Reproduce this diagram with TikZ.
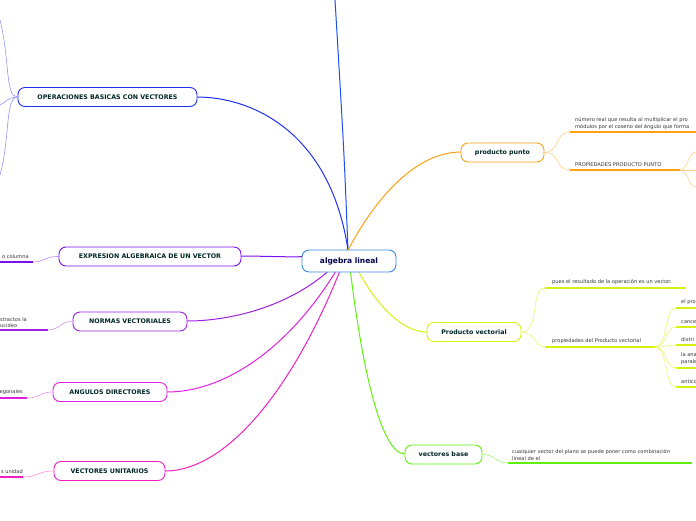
\documentclass[tikz,border=0pt]{standalone}
\usepackage{fontspec}
\setmainfont{DejaVu Sans}
\begin{document}
\begin{tikzpicture}[x=1pt,y=-1pt,
 mainbox/.style={draw=#1,line width=0.9pt,rounded corners=7pt,fill=white,font=\fontsize{6.3}{7}\selectfont\bfseries,text=black!70!teal,inner sep=0pt,minimum height=19pt},
 sub/.style={font=\fontsize{5.1}{6.3}\selectfont,text=black!80,anchor=south west,inner sep=0pt,align=left},
 ul/.style={draw=#1,line width=1.1pt},
 br/.style={draw=#1,line width=0.6pt}]
\useasboundingbox (0,0) rectangle (696,520);
\definecolor{cblue}{HTML}{2030F0}
\definecolor{cpur}{HTML}{7A10F0}
\definecolor{cvio}{HTML}{A020E0}
\definecolor{cmag}{HTML}{E020E0}
\definecolor{cpink}{HTML}{F020C0}
\definecolor{corange}{HTML}{FFA010}
\definecolor{cyel}{HTML}{D8F010}
\definecolor{cgreen}{HTML}{60F010}
\definecolor{ccen}{HTML}{3A8AE0}
% center
\coordinate (c) at (348,250);
\coordinate (top) at (335,0);
\draw[cblue!85!cyan,line width=1pt] (c) .. controls (344,150) .. (top);
\draw[cblue,line width=1pt] (c) .. controls (330,130) and (250,97) .. (197,97);
\draw[cpur,line width=1pt] (c) .. controls (320,260) and (280,256) .. (241,256);
\draw[cvio,line width=1pt] (c) .. controls (310,300) and (240,321) .. (187,321);
\draw[cmag,line width=1pt] (c) .. controls (300,340) and (230,392) .. (167,392);
\draw[cpink,line width=1pt] (c) .. controls (300,380) and (230,471) .. (165,471);
\draw[corange,line width=1pt] (c) .. controls (380,190) and (420,152) .. (461,152);
\draw[cyel,line width=1pt] (c) .. controls (370,300) and (400,332) .. (427,332);
\draw[cgreen,line width=1pt] (c) .. controls (360,360) and (380,454) .. (405,454);
\node[mainbox=ccen,minimum width=94pt,font=\fontsize{7.5}{8}\selectfont\bfseries,minimum height=22pt,text=black!70!blue] (al) at (349,261) {algebra lineal};
\node[mainbox=cblue,minimum width=179pt] (op) at (107.5,97) {OPERACIONES BASICAS CON VECTORES};
\node[mainbox=cpur,minimum width=182pt] (ex) at (150,256.5) {EXPRESION ALGEBRAICA DE UN VECTOR};
\node[mainbox=cvio,minimum width=114pt] (no) at (130,321.5) {NORMAS VECTORIALES};
\node[mainbox=cmag,minimum width=114pt] (an) at (110,392) {ANGULOS DIRECTORES};
\node[mainbox=cpink,minimum width=111pt] (vu) at (109.5,471) {VECTORES UNITARIOS};
\node[mainbox=corange,minimum width=83pt] (pp) at (502.5,152.5) {producto punto};
\node[mainbox=cyel,minimum width=94pt] (pv) at (474,332) {Producto vectorial};
\node[mainbox=cgreen,minimum width=77pt] (vb) at (443.5,454.5) {vectores base};
% operaciones branches
\draw[br=cblue!50] (op.west) .. controls (5,97) and (10,60) .. (0,20);
\draw[br=cblue!50] (op.west) .. controls (8,97) and (5,103) .. (0,105);
\draw[br=cblue!50] (op.west) .. controls (5,97) and (10,140) .. (0,175);
% left subtopics
\draw[br=cpur!50] (ex.west) .. controls (45,256) and (45,262) .. (33,262);
\draw[ul=cpur] (33,262) -- (0,262);
\node[sub,anchor=south east] at (29,259) {o columna};
\draw[br=cvio!50] (no.west) .. controls (60,321) and (60,330) .. (48,330);
\draw[ul=cvio] (48,330) -- (0,330);
\node[sub,anchor=south west] at (0,328) {stractos la\\ucideo};
\draw[br=cmag!50] (an.west) .. controls (40,392) and (40,398) .. (27,398);
\draw[ul=cmag] (27,398) -- (0,398);
\node[sub,anchor=south east] at (23,395) {egonales};
\draw[br=cpink!50] (vu.west) .. controls (38,471) and (38,477) .. (23,477);
\draw[ul=cpink] (23,477) -- (0,477);
\node[sub,anchor=south east] at (23,474) {s unidad};
% producto punto
\coordinate (pp1) at (570,132); \coordinate (pp2) at (570,170);
\draw[br=corange!50] (pp.east) .. controls (560,152) and (555,132) .. (pp1);
\draw[br=corange!50] (pp.east) .. controls (560,152) and (555,170) .. (pp2);
\draw[ul=corange] (pp1) -- (696,132);
\draw[ul=corange] (pp2) -- (680,170);
\node[sub] at (575,129.5) {número real que resulta al multiplicar el pro\\módulos por el coseno del ángulo que forma};
\node[sub] at (575,166.5) {PROPIEDADES PRODUCTO PUNTO};
\draw[br=corange!50] (680,170) .. controls (688,170) and (688,152) .. (696,152);
\draw[br=corange!50] (680,170) -- (696,170);
\draw[br=corange!50] (680,170) .. controls (688,170) and (688,187) .. (696,187);
% producto vectorial
\coordinate (pv1) at (545,288); \coordinate (pv2) at (545,347);
\draw[br=cyel!60] (pv.east) .. controls (540,332) and (530,288) .. (pv1);
\draw[br=cyel!60] (pv.east) .. controls (535,332) and (535,347) .. (pv2);
\draw[ul=cyel] (pv1) -- (686,288);
\draw[ul=cyel] (pv2) -- (655,347);
\node[sub] at (552,284.5) {pues el resultado de la operación es un vector.};
\node[sub] at (552,344) {propiedades del Producto vectorial};
\foreach \y/\t in {308/el pro,327/cance,345/distri,368/{la ana\\parale},387/antico}{
 \draw[br=cyel!60] (655,347) .. controls (668,347) and (664,\y) .. (676,\y);
 \draw[ul=cyel] (676,\y) -- (696,\y);
 \node[sub] at (681,\y-3.5) {\t};
}
% vectores base
\coordinate (vb1) at (508,463);
\draw[br=cgreen!60] (vb.east) .. controls (495,454) and (495,463) .. (vb1);
\draw[ul=cgreen] (vb1) -- (692,463);
\node[sub] at (512,460.5) {cualquier vector del plano se puede poner como combinación\\lineal de el};
\end{tikzpicture}
\end{document}
